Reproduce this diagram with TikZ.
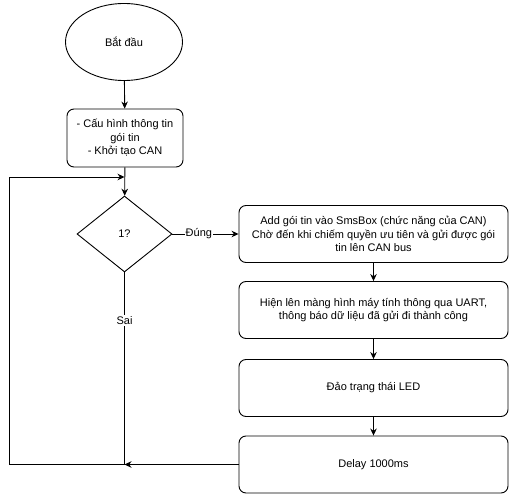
\documentclass[tikz,border=0pt]{standalone}
\usepackage{fontspec}
\setmainfont{Liberation Sans}
\usetikzlibrary{shapes.geometric, arrows.meta}
\tikzset{>={Stealth[length=7pt,width=6.5pt]}}
\tikzset{
  startstop/.style = {draw, ellipse, minimum width=117pt, minimum height=77pt, inner sep=0pt},
  stepbox/.style = {draw, rounded corners=7pt, minimum width=269pt, minimum height=57pt, align=center, inner sep=2pt},
  decision/.style = {draw, diamond, aspect=1.25, minimum width=95pt, minimum height=76pt, inner sep=0pt},
  lbl/.style = {fill=white, inner sep=1pt}
}

\begin{document}
\begin{tikzpicture}[x=1pt, y=-1pt, line width=0.9pt, font=\fontsize{11}{13.5}\selectfont]
\useasboundingbox (0,0) rectangle (515,500);
\node[startstop] (start) at (124,42) {Bắt đầu};
\node[stepbox, minimum width=116pt, minimum height=58pt] (init) at (125,138) {- Cấu hình thông tin\\gói tin\\- Khởi tạo CAN};
\node[decision] (cond) at (124.5,234) {1?};
\node[stepbox] (send) at (373.5,234) {Add gói tin vào SmsBox (chức năng của CAN)\\Chờ đến khi chiếm quyền ưu tiên và gửi được gói\\tin lên CAN bus};
\node[stepbox] (uart) at (373.5,310) {Hiện lên màng hình máy tính thông qua UART,\\thông báo dữ liệu đã gửi đi thành công};
\node[stepbox] (led) at (373.5,388) {Đảo trạng thái LED};
\node[stepbox] (delay) at (373.5,464.5) {Delay 1000ms};
\coordinate (merge) at (124.5,464.5);
\coordinate (loopT) at (9,177);
\draw[->] (start) -- (init);
\draw[->] (init) -- (cond);
\draw[->] (cond.east) -- node[lbl, pos=0.4] {Đúng} (send.west);
\draw[->] (send) -- (uart);
\draw[->] (uart) -- (led);
\draw[->] (led) -- (delay);
\draw[->] (delay.west) -- (merge);
\draw (cond.south) -- node[lbl, pos=0.25] {Sai} (merge);
\draw[->] (merge) -| (loopT) -- (loopT -| cond.north);
\end{tikzpicture}
\end{document}
